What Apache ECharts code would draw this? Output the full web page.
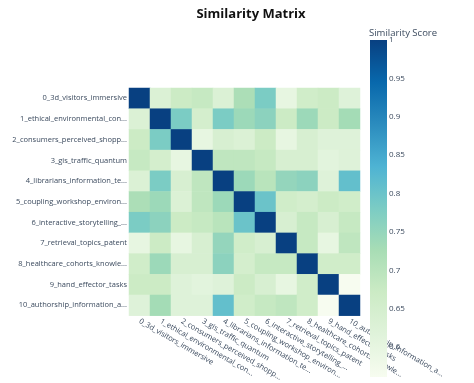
<!DOCTYPE html>
<html>
<head>
<meta charset="utf-8">
<script src="https://cdn.jsdelivr.net/npm/echarts@6/dist/echarts.min.js"></script>
<style>html,body{margin:0;padding:0;background:#fff}#c{width:474px;height:383px}</style>
</head>
<body>
<div id="c"></div>
<script>
const categories = [
  "0_3d_visitors_immersive",
  "1_ethical_environmental_con...",
  "2_consumers_perceived_shopp...",
  "3_gis_traffic_quantum",
  "4_librarians_information_te...",
  "5_coupling_workshop_environ...",
  "6_interactive_storytelling_...",
  "7_retrieval_topics_patent",
  "8_healthcare_cohorts_knowle...",
  "9_hand_effector_tasks",
  "10_authorship_information_a..."
];
const row0  = [1.00, 0.63, 0.67, 0.68, 0.63, 0.72, 0.78, 0.60, 0.66, 0.67, 0.62];
const row1  = [0.63, 1.00, 0.78, 0.65, 0.78, 0.74, 0.76, 0.67, 0.74, 0.67, 0.73];
const row2  = [0.67, 0.78, 1.00, 0.60, 0.64, 0.63, 0.67, 0.60, 0.64, 0.62, 0.62];
const row3  = [0.68, 0.65, 0.60, 1.00, 0.69, 0.69, 0.68, 0.64, 0.64, 0.61, 0.62];
const row4  = [0.63, 0.78, 0.64, 0.69, 1.00, 0.74, 0.70, 0.75, 0.76, 0.62, 0.81];
const row5  = [0.72, 0.74, 0.63, 0.69, 0.74, 1.00, 0.80, 0.66, 0.65, 0.67, 0.66];
const row6  = [0.78, 0.76, 0.67, 0.68, 0.70, 0.80, 1.00, 0.64, 0.68, 0.64, 0.68];
const row7  = [0.60, 0.67, 0.60, 0.64, 0.75, 0.66, 0.64, 1.00, 0.68, 0.60, 0.69];
const row8  = [0.66, 0.74, 0.64, 0.64, 0.76, 0.65, 0.68, 0.68, 1.00, 0.66, 0.66];
const row9  = [0.67, 0.67, 0.62, 0.61, 0.62, 0.67, 0.64, 0.60, 0.66, 1.00, 0.561];
const row10 = [0.62, 0.73, 0.62, 0.62, 0.81, 0.66, 0.68, 0.69, 0.66, 0.561, 1.00];
const rows = [row0,row1,row2,row3,row4,row5,row6,row7,row8,row9,row10];
const colorTicks = [0.6, 0.65, 0.7, 0.75, 0.8, 0.85, 0.9, 0.95, 1];
const scaleMin = 0.561, scaleMax = 1;
const palette = ['rgb(247,252,240)','rgb(224,243,219)','rgb(204,235,197)','rgb(168,221,181)','rgb(123,204,196)','rgb(78,179,211)','rgb(43,140,190)','rgb(8,104,172)','rgb(8,64,129)'];

const data = [];
rows.forEach((r, i) => r.forEach((v, j) => data.push([j, i, v])));

const txt = '#3b4a5e';
const bar = {left: 370, top: 40, width: 17, height: 337};
const chart = echarts.init(document.getElementById('c'), null, {renderer: 'canvas'});
chart.setOption({
  animation: false,
  backgroundColor: '#fff',
  title: [
    {text: 'Similarity Matrix', left: 251, top: 8, textAlign: 'center', padding: 0,
     textStyle: {fontFamily: 'Open Sans', fontWeight: 'bold', fontSize: 13, color: '#111'}},
    {text: 'Similarity Score', left: 369, top: 28, padding: 0,
     textStyle: {fontFamily: 'Open Sans', fontWeight: 'normal', fontSize: 9.5, color: txt}}
  ],
  grid: [
    {left: 129, top: 88, width: 231, height: 230, containLabel: false},
    {left: bar.left, top: bar.top, width: bar.width, height: bar.height, containLabel: false}
  ],
  xAxis: [
    {type: 'category', data: categories, gridIndex: 0,
     axisLine: {show: false}, axisTick: {show: false}, splitLine: {show: false},
     axisLabel: {rotate: -30, interval: 0, margin: 5, fontFamily: 'Open Sans', fontSize: 7.5, color: txt}},
    {type: 'value', gridIndex: 1, show: false}
  ],
  yAxis: [
    {type: 'category', data: categories, gridIndex: 0, inverse: true,
     axisLine: {show: false}, axisTick: {show: false}, splitLine: {show: false},
     axisLabel: {interval: 0, margin: 2, fontFamily: 'Open Sans', fontSize: 7.5, color: txt}},
    {type: 'value', gridIndex: 1, position: 'right', min: scaleMin, max: scaleMax,
     axisLine: {show: false}, axisTick: {show: false}, splitLine: {show: false},
     axisLabel: {customValues: colorTicks, margin: 2, fontFamily: 'Open Sans', fontSize: 8, color: txt,
       formatter: v => String(+v.toFixed(2))}}
  ],
  visualMap: {
    type: 'continuous', min: scaleMin, max: scaleMax, show: false, seriesIndex: 0,
    inRange: {color: palette}
  },
  graphic: [{
    type: 'rect', z: 1,
    shape: {x: bar.left, y: bar.top, width: bar.width, height: bar.height},
    style: {fill: new echarts.graphic.LinearGradient(0, 1, 0, 0,
      palette.map((c, i) => ({offset: i / (palette.length - 1), color: c})))}
  }],
  series: [{
    type: 'heatmap', xAxisIndex: 0, yAxisIndex: 0, data: data,
    itemStyle: {borderWidth: 0}, emphasis: {disabled: true}
  }]
});
</script>
</body>
</html>
